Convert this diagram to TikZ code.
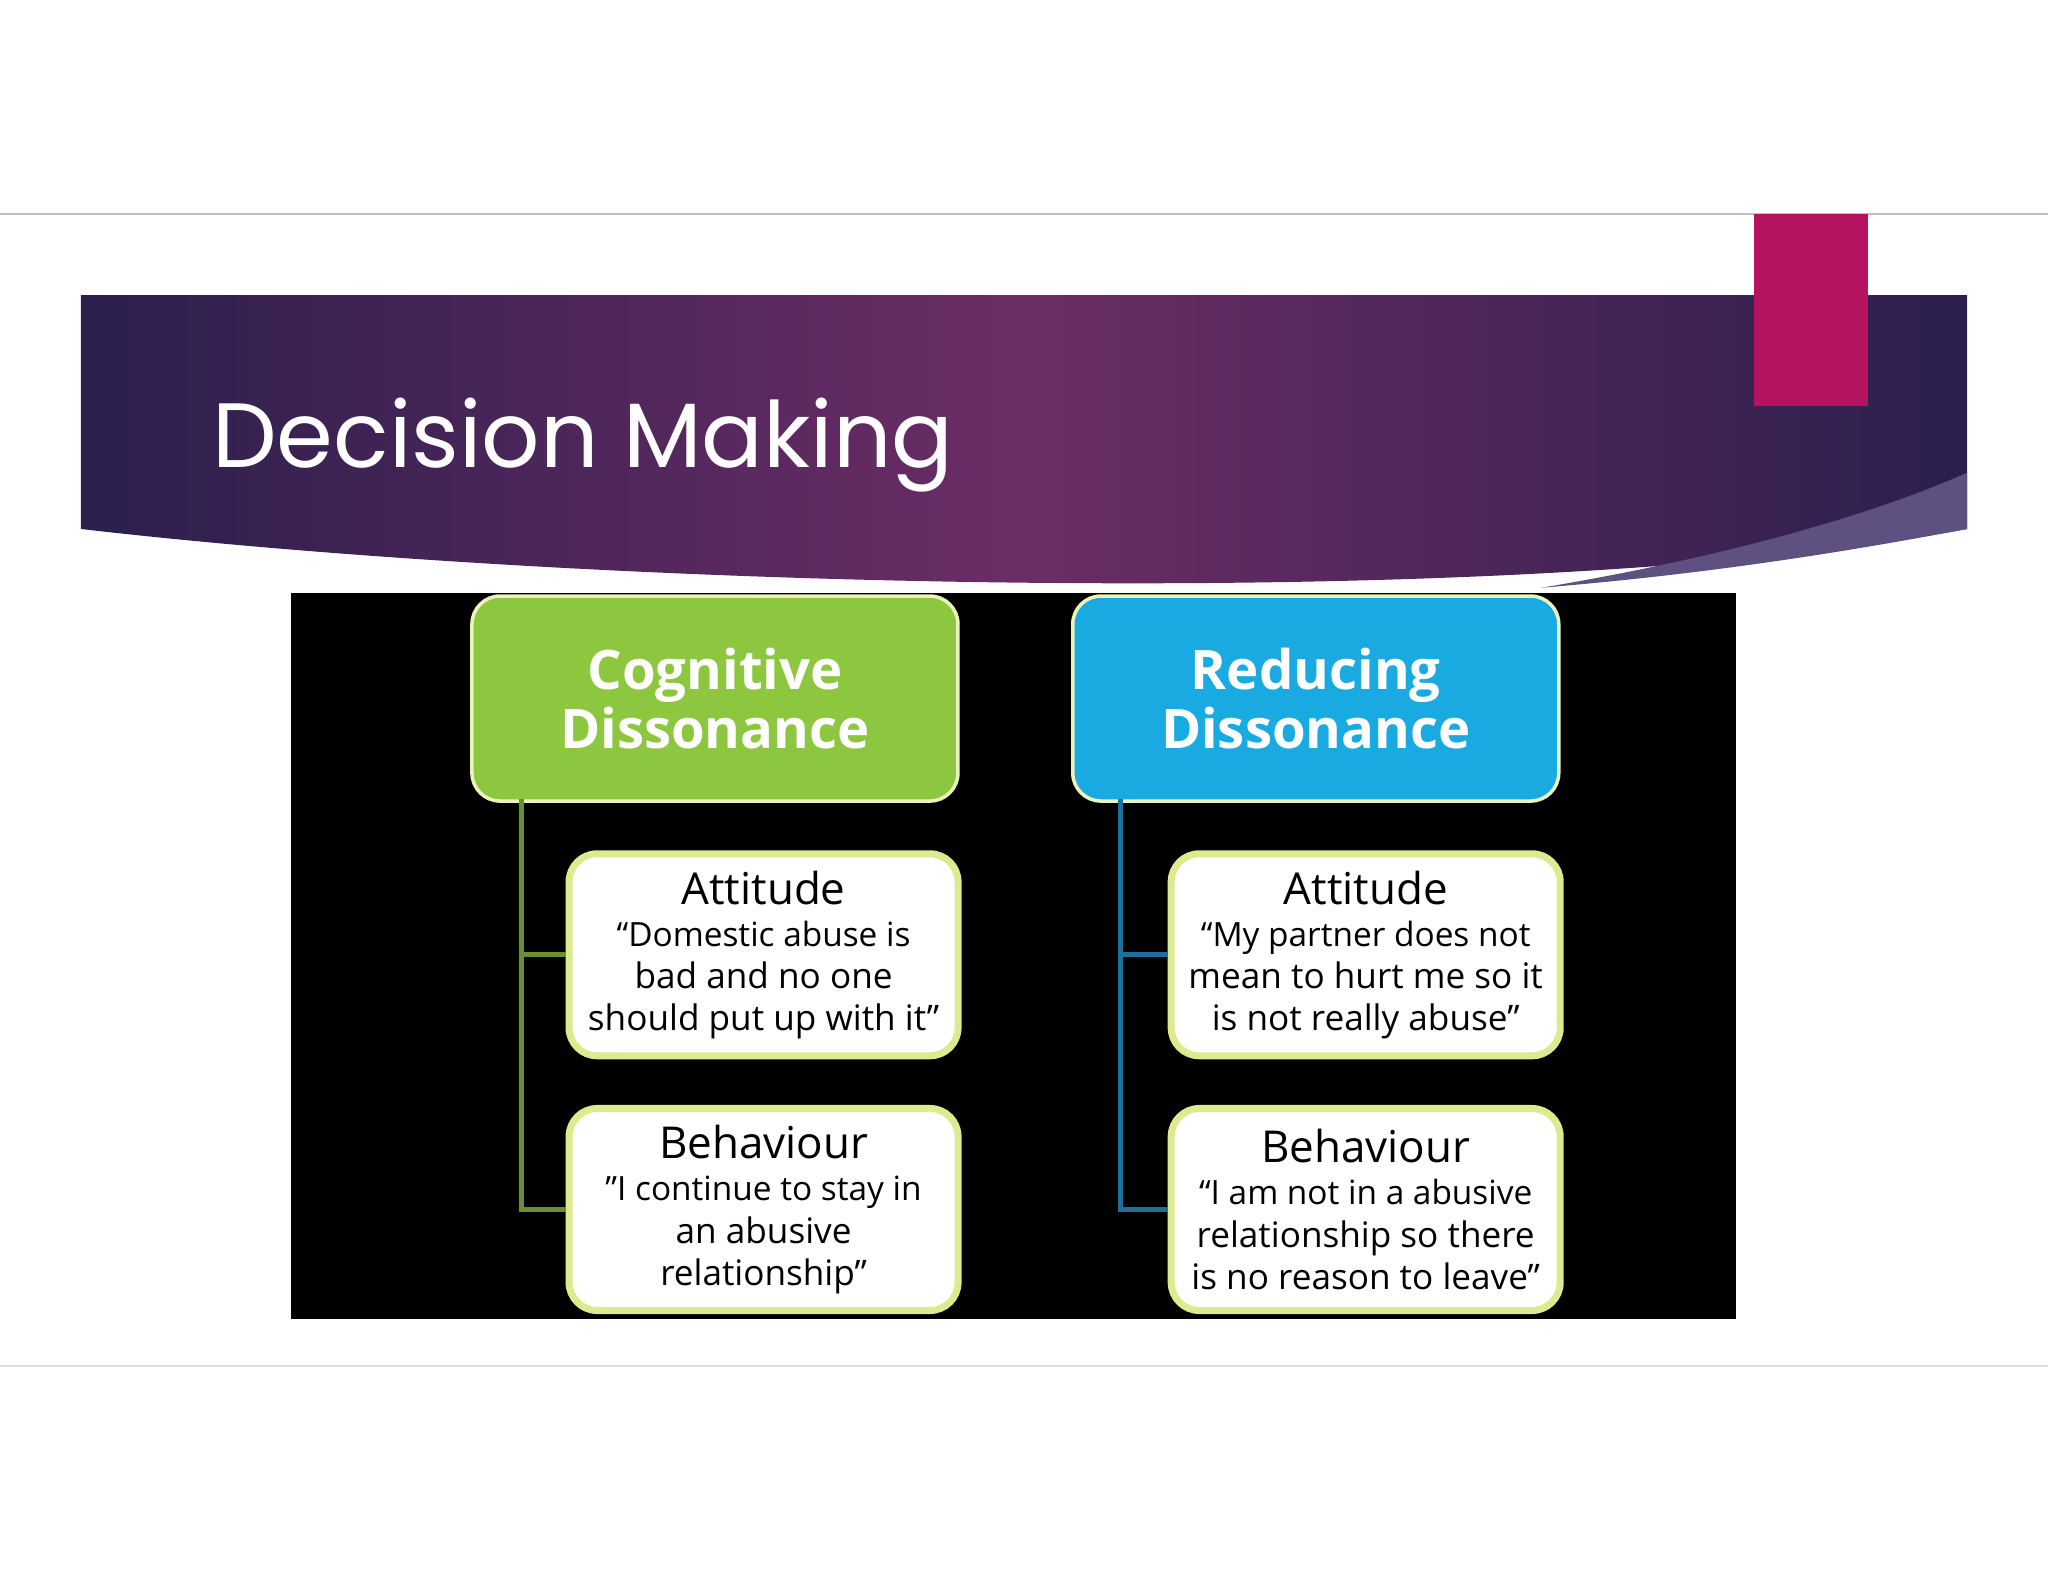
\documentclass[tikz,border=0pt]{standalone}
\usepackage{fontspec}
\setmainfont{Open Sans}
\newfontfamily\titlefont{Poppins}
\definecolor{navy}{HTML}{2B1F4D}
\definecolor{plum}{HTML}{6C2D66}
\definecolor{magbar}{HTML}{B5135F}
\definecolor{cgreen}{HTML}{8DC63F}
\definecolor{cblue}{HTML}{1AAAE2}
\definecolor{lgreen}{HTML}{6A8F2F}
\definecolor{lblue}{HTML}{1E6F9A}
\definecolor{bord}{HTML}{DDEB8E}
\definecolor{swoosh}{HTML}{5E5080}
\newcommand{\hsz}{\fontsize{12.5}{16}\selectfont}
\newcommand{\qsz}{\fontsize{9.5}{10.8}\selectfont}
\begin{document}
\begin{tikzpicture}[x=0.01306cm,y=-0.01306cm,
  head/.style={draw=bord!60!white,line width=1pt,rounded corners=8pt,minimum width=4.86cm,minimum height=2.05cm,text=white,font=\fontsize{15.5}{17}\selectfont\bfseries,align=center,anchor=north west},
  sub/.style={draw=bord,line width=2pt,fill=white,rounded corners=8pt,minimum width=3.89cm,minimum height=2.02cm,anchor=north west,align=center,inner sep=2pt},
  conn/.style={line width=1.5pt}]
\useasboundingbox (0,0) rectangle (1568,1211);
\fill[white] (0,0) rectangle (1568,1211);
\draw[gray!50,line width=0.6pt] (0,164) -- (1568,164);
\draw[gray!25,line width=0.6pt] (0,1046) -- (1568,1046);
\shade[left color=navy,right color=navy,middle color=plum]
  (62,226) -- (1506,226) -- (1506,405) .. controls (1150,470) and (450,450) .. (62,405) -- cycle;
\fill[swoosh] (1506,362) -- (1506,405) .. controls (1400,425) and (1300,440) .. (1180,450) .. controls (1300,430) and (1420,400) .. (1506,362) -- cycle;
\fill[magbar] (1343,164) rectangle (1430,311);
\node[anchor=base west,text=white,inner sep=0,font=\titlefont\fontsize{26}{30}\selectfont] (title) at (162,358) {Decision Making};
\fill[black] (223,454) rectangle (1329,1010);
\node[head,fill=cgreen] (cog) at (360,455) {Cognitive\\Dissonance};
\node[head,fill=cblue] (red) at (820,455) {Reducing\\Dissonance};
\node[sub] (a1) at (433,651) {\hsz Attitude\\\qsz ``Domestic abuse is\\bad and no one\\should put up with it''};
\node[sub] (b1) at (433,846) {\hsz Behaviour\\\qsz ''I continue to stay in\\an abusive\\relationship''};
\node[sub] (a2) at (894,651) {\hsz Attitude\\\qsz ``My partner does not\\mean to hurt me so it\\is not really abuse''};
\node[sub] (b2) at (894,846) {\hsz Behaviour\\\qsz ``I am not in a abusive\\relationship so there\\is no reason to leave''};
\coordinate (c1) at (399,612);
\coordinate (c2) at (858,612);
\draw[conn,lgreen] (c1) |- (b1.west);
\draw[conn,lgreen] (c1 |- a1.west) -- (a1.west);
\draw[conn,lblue] (c2) |- (b2.west);
\draw[conn,lblue] (c2 |- a2.west) -- (a2.west);
\end{tikzpicture}
\end{document}
